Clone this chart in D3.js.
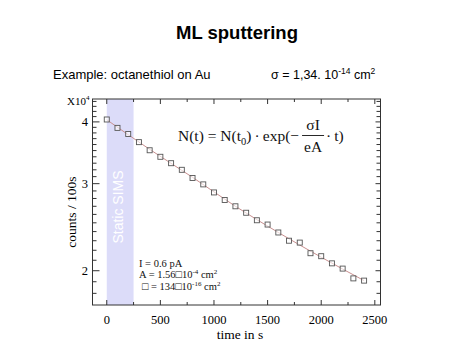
<!DOCTYPE html>
<html><head><meta charset="utf-8">
<script src="https://cdn.jsdelivr.net/npm/d3@7"></script>
<style>body{margin:0;background:#fff}svg{display:block}</style>
</head><body>
<svg id="c" width="474" height="355"></svg>
<script>
const times = [0,100,200,300,400,500,600,700,800,900,1000,1100,1200,1300,1400,1500,1600,1700,1800,1900,2000,2100,2200,2300,2400];
const counts = [4.045,3.89,3.78,3.64,3.505,3.40,3.30,3.20,3.08,2.99,2.88,2.78,2.70,2.62,2.53,2.48,2.39,2.30,2.28,2.17,2.14,2.07,2.02,1.93,1.91];
const fitTimes = [0,400,800,1200,1600,2000,2400];
const fitCounts = [4.04,3.52,3.09,2.70,2.39,2.13,1.91];
const xTicks = [0,500,1000,1500,2000,2500];
const xMinor = [250,750,1250,1750,2250];
const yTicks = [2,3,4];
const yMinor = [1.8,1.9,2.1,2.2,2.3,2.4,2.5,2.6,2.7,2.8,2.9,3.1,3.2,3.3,3.4,3.5,3.6,3.7,3.8,3.9,4.1,4.2,4.3,4.4];
const staticRange = [0,250];

const svg = d3.select("#c");
const L=92.5, R=380.5, T=99, B=305;
const x = d3.scaleLinear().domain([-133,2553]).range([L,R]);
const y = d3.scaleLog().domain([1.705,4.45]).range([B,T]);
const serif = "'Liberation Serif','Times New Roman',serif";
const sans = "'Liberation Sans',Arial,sans-serif";

// title and subtitles
svg.append("text").attr("x",237).attr("y",39).attr("text-anchor","middle")
  .attr("font-family",sans).attr("font-weight","bold").attr("font-size",18.5).text("ML sputtering");
svg.append("text").attr("x",53).attr("y",79).attr("font-family",sans).attr("font-size",13)
  .text("Example: octanethiol on Au");
const sg = svg.append("text").attr("x",271).attr("y",79).attr("font-family",sans).attr("font-size",12.5);
sg.append("tspan").text("\u03c3 = 1,34. 10");
sg.append("tspan").attr("dy",-5).attr("font-size",8.5).text("-14");
sg.append("tspan").attr("dy",5).text(" cm");
sg.append("tspan").attr("dy",-5).attr("font-size",8.5).text("2");

// shaded band
svg.append("rect").attr("x",x(staticRange[0])).attr("y",T)
  .attr("width",x(staticRange[1])-x(staticRange[0])).attr("height",B-T).attr("fill","#dcdcf9");
svg.append("text").attr("transform",`translate(${(x(staticRange[0])+x(staticRange[1]))/2+3},207) rotate(-90)`)
  .attr("text-anchor","middle").attr("font-family",sans).attr("font-size",14).attr("fill","#fff")
  .text("Static SIMS");

// frame
const ax = svg.append("g").attr("stroke","#333").attr("stroke-width",1);
ax.append("rect").attr("x",L).attr("y",T).attr("width",R-L).attr("height",B-T).attr("fill","none");
xTicks.forEach(v=>{ if(x(v)<=R){
  ax.append("line").attr("x1",x(v)).attr("x2",x(v)).attr("y1",B).attr("y2",B-5);
  ax.append("line").attr("x1",x(v)).attr("x2",x(v)).attr("y1",T).attr("y2",T+5);}});
xMinor.forEach(v=>{
  ax.append("line").attr("x1",x(v)).attr("x2",x(v)).attr("y1",B).attr("y2",B-3);
  ax.append("line").attr("x1",x(v)).attr("x2",x(v)).attr("y1",T).attr("y2",T+3);});
yTicks.forEach(v=>{
  ax.append("line").attr("x1",L).attr("x2",L+7).attr("y1",y(v)).attr("y2",y(v));
  ax.append("line").attr("x1",R).attr("x2",R-5).attr("y1",y(v)).attr("y2",y(v));});
yMinor.forEach(v=>{
  ax.append("line").attr("x1",L).attr("x2",L+4).attr("y1",y(v)).attr("y2",y(v));
  ax.append("line").attr("x1",R).attr("x2",R-4).attr("y1",y(v)).attr("y2",y(v));});

// tick labels
xTicks.forEach(v=>svg.append("text").attr("x",x(v)).attr("y",324).attr("text-anchor","middle")
  .attr("font-family",serif).attr("font-size",12.5).text(v));
yTicks.forEach(v=>svg.append("text").attr("x",88).attr("y",y(v)+4.5).attr("text-anchor","end")
  .attr("font-family",serif).attr("font-size",12.5).text(v));
const ex = svg.append("text").attr("x",67).attr("y",105).attr("font-family",serif).attr("font-size",11);
ex.append("tspan").text("X10");
ex.append("tspan").attr("dy",-5).attr("font-size",7).text("4");

svg.append("text").attr("x",240).attr("y",339).attr("text-anchor","middle")
  .attr("font-family",serif).attr("font-size",13.5).text("time in s");
svg.append("text").attr("transform","translate(76,212) rotate(-90)").attr("text-anchor","middle")
  .attr("font-family",serif).attr("font-size",13.5).text("counts / 100s");

// fit line
svg.append("path").datum(fitTimes.map((t,i)=>[t,fitCounts[i]]))
  .attr("d",d3.line().x(d=>x(d[0])).y(d=>y(d[1])).curve(d3.curveMonotoneX))
  .attr("fill","none").attr("stroke","#c99090").attr("stroke-width",1);
// markers
svg.append("g").selectAll("rect").data(times.map((t,i)=>[t,counts[i]])).join("rect")
  .attr("x",d=>x(d[0])-2.5).attr("y",d=>y(d[1])-2.5).attr("width",5).attr("height",5)
  .attr("fill","#fff").attr("fill-opacity",0.6).attr("stroke","#555").attr("stroke-width",0.9);

// formula
const fs = 15.5;
const f = svg.append("g").attr("font-family",serif).attr("font-size",fs).attr("fill","#111");
const f1 = f.append("text").attr("x",178).attr("y",141);
f1.append("tspan").text("N(t) = N(t");
f1.append("tspan").attr("dy",4).attr("font-size",10.5).text("0");
f1.append("tspan").attr("dy",-4).text(")\u2009\u00b7\u2009exp(\u2212");
const endX = 178 + f1.node().getComputedTextLength();
const fracC = endX + 3 + 11;
f.append("text").attr("x",fracC).attr("y",130).attr("text-anchor","middle").text("\u03c3I");
f.append("line").attr("x1",fracC-11).attr("x2",fracC+11).attr("y1",135.5).attr("y2",135.5).attr("stroke","#111").attr("stroke-width",0.9);
f.append("text").attr("x",fracC).attr("y",152).attr("text-anchor","middle").text("eA");
f.append("text").attr("x",fracC+13).attr("y",141).text("\u00b7\u2009t)");

// annotation
const a = svg.append("g").attr("font-family",serif).attr("font-size",10.5).attr("fill","#111");
a.append("text").attr("x",139).attr("y",267).text("I = 0.6 pA");
const a2 = a.append("text").attr("x",139).attr("y",278);
a2.append("tspan").text("A = 1.56\u25a110");
a2.append("tspan").attr("dy",-4).attr("font-size",7).text("-4");
a2.append("tspan").attr("dy",4).text(" cm");
a2.append("tspan").attr("dy",-4).attr("font-size",7).text("2");
const a3 = a.append("text").attr("x",142).attr("y",290);
a3.append("tspan").text("\u25a1 = 134\u25a110");
a3.append("tspan").attr("dy",-4).attr("font-size",7).text("-16");
a3.append("tspan").attr("dy",4).text(" cm");
a3.append("tspan").attr("dy",-4).attr("font-size",7).text("2");
</script>
</body></html>
